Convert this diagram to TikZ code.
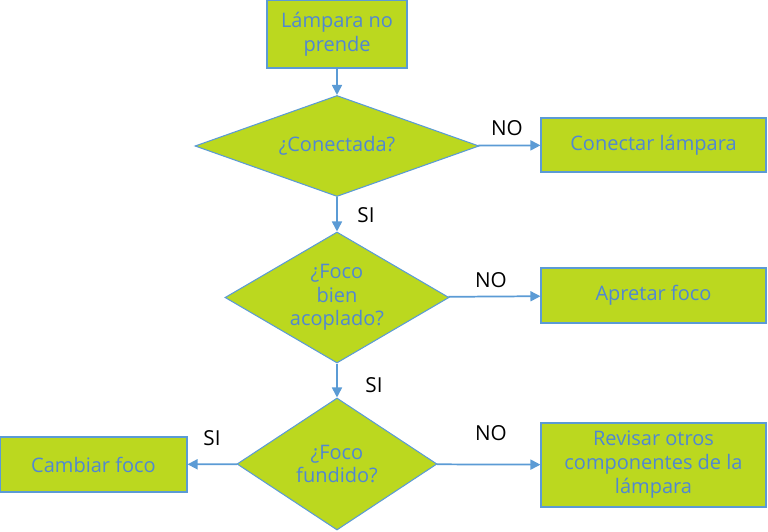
\documentclass[tikz,border=0pt]{standalone}
\usepackage{fontspec}
\setmainfont{Open Sans}
\usepackage{xcolor}
\usetikzlibrary{arrows.meta}
\usetikzlibrary{shapes.geometric}

\definecolor{lampgreen}{RGB}{187,216,31}
\definecolor{lampline}{RGB}{91,155,213}
\definecolor{lamptext}{RGB}{80,135,210}

\tikzset{
  stepbox/.style={rectangle, draw=lampline, line width=0.8pt, fill=lampgreen,
    text=lamptext, align=center, inner sep=2pt, font=\fontsize{15}{18}\selectfont},
  askbox/.style={diamond, draw=lampline, line width=0.8pt, fill=lampgreen,
    text=lamptext, align=center, inner sep=0pt, font=\fontsize{15}{17.5}\selectfont},
  flow/.style={-{Triangle[width=7.5pt,length=7.5pt]}, line width=1.3pt, lampline},
  answer/.style={font=\fontsize{15.5}{18}\selectfont, text=black}
}

\begin{document}
\begin{tikzpicture}[x=0.75pt, y=-0.75pt]

\useasboundingbox (0,0) rectangle (768,532);

%boxes
\node [stepbox, minimum width=105pt, minimum height=51pt] (start) at (337,34) {Lámpara no\\prende};
\node [stepbox, minimum width=168.75pt, minimum height=40.5pt] (plug) at (653.5,145) {Conectar lámpara};
\node [stepbox, minimum width=168.75pt, minimum height=41.25pt] (tight) at (653.5,295.5) {Apretar foco};
\node [stepbox, minimum width=168.75pt, minimum height=63pt] (check) at (653.5,465) {Revisar otros\\componentes de la\\lámpara};
\node [stepbox, minimum width=140.25pt, minimum height=41.25pt] (change) at (93.5,464.5) {Cambiar foco};

%questions
\node [askbox, aspect=2.8, minimum width=213pt, minimum height=75.75pt] (plugged) at (337,146) {¿Conectada?};
\node [askbox, aspect=1.7, minimum width=168pt, minimum height=98.25pt] (seated) at (337,297.5) {¿Foco\\bien\\acoplado?};
\node [askbox, aspect=1.5, minimum width=150pt, minimum height=99pt] (blown) at (337,464) {¿Foco\\fundido?};

%arrows
\draw [flow] (start) -- (plugged);
\draw [flow] (plugged) -- (plug);
\draw [flow] (plugged) -- (seated);
\draw [flow] (seated) -- (tight);
\draw [flow] (seated) -- (blown);
\draw [flow] (blown) -- (check);
\draw [flow] (blown) -- (change);

%labels
\node [answer] (no1) at (507,128) {NO};
\node [answer] (si1) at (366,215) {SI};
\node [answer] (no2) at (491,280) {NO};
\node [answer] (si2) at (374,385) {SI};
\node [answer] (no3) at (491,433) {NO};
\node [answer] (si3) at (212,438) {SI};

\end{tikzpicture}
\end{document}
